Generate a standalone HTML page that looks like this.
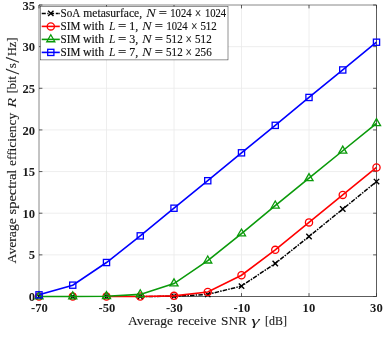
<!DOCTYPE html>
<html><head><meta charset="utf-8"><title>Average spectral efficiency</title>
<style>html,body{margin:0;padding:0;background:#fff;overflow:hidden}svg{display:block}text{font-family:"Liberation Serif",serif;fill:#1a1a1a}.tk{font-weight:bold;font-size:12.6px;fill:#222}.lb{font-size:13.4px;stroke:#1a1a1a;stroke-width:0.12px}.lg{font-size:11.5px;fill:#111;stroke:#111;stroke-width:0.15px}.it{font-style:italic;stroke:none}</style></head><body>
<svg width="388" height="337" viewBox="0 0 388 337">
<rect width="388" height="337" fill="#fff"/>
<g stroke="#eaeaea" stroke-width="0.8" fill="none">
<path d="M106.50 5.0 V296.5"/>
<path d="M174.00 5.0 V296.5"/>
<path d="M241.50 5.0 V296.5"/>
<path d="M309.00 5.0 V296.5"/>
<path d="M39.0 254.86 H376.5"/>
<path d="M39.0 213.21 H376.5"/>
<path d="M39.0 171.57 H376.5"/>
<path d="M39.0 129.93 H376.5"/>
<path d="M39.0 88.29 H376.5"/>
<path d="M39.0 46.64 H376.5"/>
</g>
<path d="M39.0 296.5 V5.0 H376.5" fill="none" stroke="#262626" stroke-width="0.55"/>
<path d="M39.0 296.5 H376.5 V5.0" fill="none" stroke="#262626" stroke-width="0.75"/>
<g stroke="#333" stroke-width="0.8">
<path d="M39.00 296.5 v-3.4 M39.00 5.0 v3.4"/>
<path d="M106.50 296.5 v-3.4 M106.50 5.0 v3.4"/>
<path d="M174.00 296.5 v-3.4 M174.00 5.0 v3.4"/>
<path d="M241.50 296.5 v-3.4 M241.50 5.0 v3.4"/>
<path d="M309.00 296.5 v-3.4 M309.00 5.0 v3.4"/>
<path d="M376.50 296.5 v-3.4 M376.50 5.0 v3.4"/>
<path d="M39.0 296.50 h3.4 M376.5 296.50 h-3.4"/>
<path d="M39.0 254.86 h3.4 M376.5 254.86 h-3.4"/>
<path d="M39.0 213.21 h3.4 M376.5 213.21 h-3.4"/>
<path d="M39.0 171.57 h3.4 M376.5 171.57 h-3.4"/>
<path d="M39.0 129.93 h3.4 M376.5 129.93 h-3.4"/>
<path d="M39.0 88.29 h3.4 M376.5 88.29 h-3.4"/>
<path d="M39.0 46.64 h3.4 M376.5 46.64 h-3.4"/>
<path d="M39.0 5.00 h3.4 M376.5 5.00 h-3.4"/>
</g>
<g class="tk" text-anchor="middle">
<text x="39.40" y="311.7">-70</text>
<text x="106.90" y="311.7">-50</text>
<text x="174.40" y="311.7">-30</text>
<text x="241.90" y="311.7">-10</text>
<text x="308.90" y="311.7">10</text>
<text x="376.40" y="311.7">30</text>
</g><g class="tk" text-anchor="end">
<text x="35.1" y="301.10">0</text>
<text x="35.1" y="259.46">5</text>
<text x="35.1" y="217.81">10</text>
<text x="35.1" y="176.17">15</text>
<text x="35.1" y="134.53">20</text>
<text x="35.1" y="92.89">25</text>
<text x="35.1" y="51.24">30</text>
<text x="35.1" y="9.60">35</text>
</g>
<polyline points="39.00,296.50 72.75,296.50 106.50,296.50 140.25,296.50" fill="none" stroke="#000" stroke-width="0.9"/>
<polyline points="140.25,296.50 174.00,296.25 207.75,294.42 241.50,286.09 275.25,263.44 309.00,236.53 342.75,209.05 376.50,181.57" fill="none" stroke="#000" stroke-width="1.5" stroke-dasharray="4.5 1.15 1.5 1.15"/>
<g stroke="#000" stroke-width="1.4" fill="none"><path d="M36.30 293.80 l5.4 5.4 M36.30 299.20 l5.4 -5.4"/><path d="M70.05 293.80 l5.4 5.4 M70.05 299.20 l5.4 -5.4"/><path d="M103.80 293.80 l5.4 5.4 M103.80 299.20 l5.4 -5.4"/><path d="M137.55 293.80 l5.4 5.4 M137.55 299.20 l5.4 -5.4"/><path d="M171.30 293.55 l5.4 5.4 M171.30 298.95 l5.4 -5.4"/><path d="M205.05 291.72 l5.4 5.4 M205.05 297.12 l5.4 -5.4"/><path d="M238.80 283.39 l5.4 5.4 M238.80 288.79 l5.4 -5.4"/><path d="M272.55 260.74 l5.4 5.4 M272.55 266.14 l5.4 -5.4"/><path d="M306.30 233.83 l5.4 5.4 M306.30 239.23 l5.4 -5.4"/><path d="M340.05 206.35 l5.4 5.4 M340.05 211.75 l5.4 -5.4"/><path d="M373.80 178.87 l5.4 5.4 M373.80 184.27 l5.4 -5.4"/></g>
<polyline points="39.00,296.50 72.75,296.50 106.50,296.50" fill="none" stroke="#f00" stroke-width="0.9"/>
<polyline points="106.50,296.50 140.25,296.50 174.00,295.83 207.75,291.92 241.50,275.26 275.25,249.86 309.00,222.38 342.75,194.89 376.50,167.41" fill="none" stroke="#f00" stroke-width="1.6"/>
<g stroke="#f00" stroke-width="1.3" fill="none"><circle cx="39.00" cy="296.50" r="3.6"/><circle cx="72.75" cy="296.50" r="3.6"/><circle cx="106.50" cy="296.50" r="3.6"/><circle cx="140.25" cy="296.50" r="3.6"/><circle cx="174.00" cy="295.83" r="3.6"/><circle cx="207.75" cy="291.92" r="3.6"/><circle cx="241.50" cy="275.26" r="3.6"/><circle cx="275.25" cy="249.86" r="3.6"/><circle cx="309.00" cy="222.38" r="3.6"/><circle cx="342.75" cy="194.89" r="3.6"/><circle cx="376.50" cy="167.41" r="3.6"/></g>
<polyline points="39.00,296.50 72.75,296.50 106.50,296.25 140.25,294.42 174.00,283.59 207.75,260.69 241.50,233.62 275.25,205.72 309.00,178.23 342.75,150.75 376.50,123.27" fill="none" stroke="#0a9a0a" stroke-width="1.6"/>
<g stroke="#0a9a0a" stroke-width="1.3" fill="none"><path d="M39.00 291.83 L43.04 298.83 L34.96 298.83 Z"/><path d="M72.75 291.83 L76.79 298.83 L68.71 298.83 Z"/><path d="M106.50 291.58 L110.54 298.59 L102.46 298.59 Z"/><path d="M140.25 289.75 L144.29 296.75 L136.21 296.75 Z"/><path d="M174.00 278.92 L178.04 285.93 L169.96 285.93 Z"/><path d="M207.75 256.02 L211.79 263.02 L203.71 263.02 Z"/><path d="M241.50 228.95 L245.54 235.95 L237.46 235.95 Z"/><path d="M275.25 201.05 L279.29 208.05 L271.21 208.05 Z"/><path d="M309.00 173.56 L313.04 180.57 L304.96 180.57 Z"/><path d="M342.75 146.08 L346.79 153.09 L338.71 153.09 Z"/><path d="M376.50 118.60 L380.54 125.60 L372.46 125.60 Z"/></g>
<polyline points="39.00,294.83 72.75,285.17 106.50,262.52 140.25,235.87 174.00,208.22 207.75,180.73 241.50,152.83 275.25,125.35 309.00,97.45 342.75,69.96 376.50,42.23" fill="none" stroke="#00f" stroke-width="1.6"/>
<g stroke="#00f" stroke-width="1.3" fill="none"><rect x="35.90" y="291.73" width="6.2" height="6.2"/><rect x="69.65" y="282.07" width="6.2" height="6.2"/><rect x="103.40" y="259.42" width="6.2" height="6.2"/><rect x="137.15" y="232.77" width="6.2" height="6.2"/><rect x="170.90" y="205.12" width="6.2" height="6.2"/><rect x="204.65" y="177.63" width="6.2" height="6.2"/><rect x="238.40" y="149.73" width="6.2" height="6.2"/><rect x="272.15" y="122.25" width="6.2" height="6.2"/><rect x="305.90" y="94.35" width="6.2" height="6.2"/><rect x="339.65" y="66.86" width="6.2" height="6.2"/><rect x="373.40" y="39.13" width="6.2" height="6.2"/></g>
<rect x="40.4" y="6.5" width="187.6" height="53.4" fill="#fff" stroke="#262626" stroke-width="0.5"/>
<path d="M41.7 13.4 H45.8 M47.3 13.4 H48.5 M50 13.4 H54.1 M55.8 13.4 H58.7 M59.2 13.4 H59.9" stroke="#000" stroke-width="1.5" fill="none"/>
<g stroke="#000" stroke-width="1.4" fill="none"><path d="M48.10 10.70 l5.4 5.4 M48.10 16.10 l5.4 -5.4"/></g>
<path d="M41.7 26.4 H59.8" stroke="#f00" stroke-width="1.6"/><g stroke="#f00" stroke-width="1.3" fill="none"><circle cx="50.80" cy="26.40" r="3.6"/></g>
<path d="M41.7 39.4 H59.8" stroke="#0a9a0a" stroke-width="1.6"/><g stroke="#0a9a0a" stroke-width="1.3" fill="none"><path d="M50.80 34.73 L54.84 41.73 L46.76 41.73 Z"/></g>
<path d="M41.7 52.4 H59.8" stroke="#00f" stroke-width="1.6"/><g stroke="#00f" stroke-width="1.3" fill="none"><rect x="47.70" y="49.30" width="6.2" height="6.2"/></g>
<g>
<text class="lg" transform="translate(60.50 16.6) scale(0.968 1)">SoA</text>
<text class="lg" transform="translate(83.30 16.6) scale(1.008 1)">metasurface,</text>
<text class="lg it" transform="translate(146.12 16.6) scale(1.289 1)">N</text>
<text class="lg" transform="translate(158.70 16.6) scale(1.264 1)">=</text>
<text class="lg" transform="translate(170.30 16.6) scale(0.922 1)">1024</text>
<text class="lg" style="font-size:14.0px" transform="translate(194.80 18.3) scale(0.821 1)">×</text>
<text class="lg" transform="translate(204.90 16.6) scale(0.922 1)">1024</text>
<text class="lg" transform="translate(60.50 29.5) scale(0.968 1)">SIM</text>
<text class="lg" transform="translate(83.00 29.5) scale(1.032 1)">with</text>
<text class="lg it" transform="translate(109.04 29.5) scale(1.010 1)">L</text>
<text class="lg" transform="translate(118.00 29.5) scale(1.280 1)">=</text>
<text class="lg" transform="translate(129.30 29.5) scale(1.043 1)">1,</text>
<text class="lg it" transform="translate(142.12 29.5) scale(1.265 1)">N</text>
<text class="lg" transform="translate(154.80 29.5) scale(1.264 1)">=</text>
<text class="lg" transform="translate(166.40 29.5) scale(0.922 1)">1024</text>
<text class="lg" style="font-size:14.0px" transform="translate(191.00 31.2) scale(0.821 1)">×</text>
<text class="lg" transform="translate(200.40 29.5) scale(0.951 1)">512</text>
<text class="lg" transform="translate(60.50 42.5) scale(0.968 1)">SIM</text>
<text class="lg" transform="translate(83.00 42.5) scale(1.032 1)">with</text>
<text class="lg it" transform="translate(109.04 42.5) scale(1.010 1)">L</text>
<text class="lg" transform="translate(118.00 42.5) scale(1.280 1)">=</text>
<text class="lg" transform="translate(129.30 42.5) scale(1.043 1)">3,</text>
<text class="lg it" transform="translate(142.12 42.5) scale(1.265 1)">N</text>
<text class="lg" transform="translate(154.80 42.5) scale(1.264 1)">=</text>
<text class="lg" transform="translate(166.10 42.5) scale(0.962 1)">512</text>
<text class="lg" style="font-size:14.0px" transform="translate(185.50 44.2) scale(0.821 1)">×</text>
<text class="lg" transform="translate(195.10 42.5) scale(0.962 1)">512</text>
<text class="lg" transform="translate(60.50 55.5) scale(0.968 1)">SIM</text>
<text class="lg" transform="translate(83.00 55.5) scale(1.032 1)">with</text>
<text class="lg it" transform="translate(109.04 55.5) scale(1.010 1)">L</text>
<text class="lg" transform="translate(118.00 55.5) scale(1.280 1)">=</text>
<text class="lg" transform="translate(129.30 55.5) scale(1.043 1)">7,</text>
<text class="lg it" transform="translate(142.12 55.5) scale(1.265 1)">N</text>
<text class="lg" transform="translate(154.80 55.5) scale(1.264 1)">=</text>
<text class="lg" transform="translate(166.10 55.5) scale(0.962 1)">512</text>
<text class="lg" style="font-size:14.0px" transform="translate(185.50 57.2) scale(0.821 1)">×</text>
<text class="lg" transform="translate(195.10 55.5) scale(0.962 1)">256</text>
</g>
<text class="lb" transform="translate(128.10 325.2) scale(1.011 1)">Average</text>
<text class="lb" transform="translate(177.80 325.2) scale(0.998 1)">receive</text>
<text class="lb" transform="translate(221.10 325.2) scale(0.990 1)">SNR</text>
<text class="lb it" transform="translate(251.20 325.2) scale(1.593 1)">γ</text>
<text class="lb" transform="translate(265.00 325.2) scale(0.892 1)">[dB]</text>
<g transform="translate(16.4 262.9) rotate(-90)">
<text class="lb" transform="translate(-0.50 0) scale(1.020 1)">Average</text>
<text class="lb" transform="translate(48.50 0) scale(1.075 1)">spectral</text>
<text class="lb" transform="translate(96.90 0) scale(0.998 1)">efficiency</text>
<text class="lb it" transform="translate(155.10 0) scale(1.234 1)">R</text>
<text class="lb" transform="translate(169.70 0) scale(0.913 1)">[bit</text>
<text class="lb" style="font-size:18.0px" transform="translate(188.40 2.1) scale(1.162 1)">/</text>
<text class="lb" transform="translate(194.70 0) scale(0.978 1)">s</text>
<text class="lb" style="font-size:18.0px" transform="translate(200.20 2.1) scale(1.162 1)">/</text>
<text class="lb" transform="translate(206.90 0) scale(0.916 1)">Hz]</text>
</g>
</svg></body></html>
